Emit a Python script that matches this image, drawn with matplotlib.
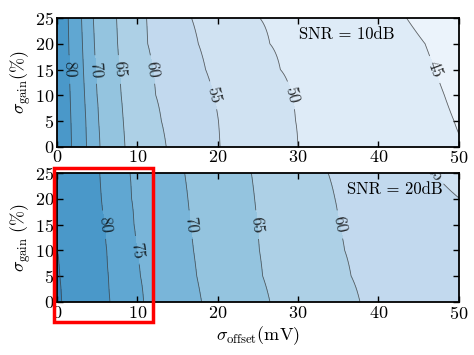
#!/usr/bin/env python3
import numpy as np
import matplotlib
matplotlib.use("Agg")
import matplotlib.pyplot as plt
from matplotlib.patches import Rectangle

nan = np.nan

# gain rows (%) at which the contour crossings were read
gain = [0, 5, 10, 15, 20, 25]

# SNR = 10dB: x position (mV) of each contour level at each gain row
levels_10 = [80, 75, 70, 65, 60, 55, 50, 45]
cross_10 = [
    [1.83, 1.75, 1.65, 1.55, 1.48, 1.41],
    [3.69, 3.60, 3.45, 3.30, 3.18, 3.07],
    [5.35, 5.20, 5.00, 4.80, 4.65, 4.52],
    [8.46, 8.25, 8.00, 7.75, 7.55, 7.42],
    [13.6, 13.0, 12.3, 11.9, 11.3, 11.15],
    [20.3, 20.1, 19.5, 18.5, 17.6, 16.75],
    [30.0, 29.7, 29.2, 27.8, 26.5, 25.25],
    [nan, 49.4, 48.2, 47.0, 45.8, 43.5],
]
left_10 = [84.6, 84.6, 84.5, 84.5, 84.4, 84.4]    # value at offset = 0
right_10 = [45.2, 44.8, 44.5, 44.2, 43.9, 43.2]   # value at offset = 50
labels_10 = {80: 15, 70: 15, 65: 15, 60: 15, 55: 10, 50: 10, 45: 15}

# SNR = 20dB
levels_20 = [85, 80, 75, 70, 65, 60, 55]
cross_20 = [
    [0.6, 0.35, 0.05, nan, nan, nan],
    [6.6, 6.4, 6.2, 5.95, 5.55, 5.35],
    [10.8, 10.4, 9.9, 9.6, 9.3, 9.1],
    [18.0, 17.4, 17.0, 16.6, 16.3, 15.9],
    [26.5, 25.6, 25.2, 24.9, 24.6, 24.2],
    [37.7, 36.6, 35.8, 35.1, 34.6, 33.75],
    [nan, nan, nan, nan, nan, 46.9],
]
left_20 = [86.0, 85.7, 85.2, 84.7, 84.5, 84.3]
right_20 = [56.5, 56.0, 55.6, 55.3, 55.05, 53.8]
labels_20 = {80: 15, 75: 10, 70: 15, 65: 15, 60: 15, 55: 25}

offset = np.linspace(0, 50, 501)


def build_field(levels, cross, left, right):
    cross = np.array(cross, dtype=float)
    levels = np.array(levels, dtype=float)
    rows = []
    for i in range(len(gain)):
        p = cross[:, i]
        ok = ~np.isnan(p)
        xp = np.r_[0, p[ok], 50]
        fp = np.r_[left[i], levels[ok], right[i]]
        rows.append(np.interp(offset, xp, fp))
    return np.array(rows)


def label_points(levels, cross, wanted):
    pts = []
    for lev, row in zip(levels, cross):
        if lev in wanted:
            row = np.array(row, dtype=float)
            ok = ~np.isnan(row)
            g = wanted[lev]
            pts.append((np.interp(g, np.array(gain)[ok], row[ok]), g))
    return pts


plt.rcParams['font.family'] = 'serif'
plt.rcParams['font.serif'] = ['cmr10']
plt.rcParams['mathtext.fontset'] = 'cm'
plt.rcParams['axes.formatter.use_mathtext'] = True

fig = plt.figure(figsize=(4.74, 3.55), dpi=100)
ax1 = fig.add_axes([0.120, 0.587, 0.848, 0.362])
ax2 = fig.add_axes([0.120, 0.150, 0.848, 0.362])

fill_levels = np.arange(40, 95, 5)
panels = [
    (ax1, levels_10, cross_10, left_10, right_10, labels_10, 'SNR = 10dB', 0.84,
     r'$\sigma_{\rm gain}(\%)$'),
    (ax2, levels_20, cross_20, left_20, right_20, labels_20, 'SNR = 20dB', 0.96,
     r'$\sigma_{\rm gain}\ (\%)$'),
]

for ax, levels, cross, left, right, wanted, title, tx, ylab in panels:
    z = build_field(levels, cross, left, right)
    ax.contourf(offset, gain, z, levels=fill_levels, cmap='Blues', vmin=38, vmax=112)
    cs = ax.contour(offset, gain, z, levels=fill_levels, colors='0.25',
                    linewidths=0.6, alpha=0.8)
    texts = ax.clabel(cs, fmt='%d', fontsize=12, inline=True, inline_spacing=6,
                      manual=label_points(levels, cross, wanted), colors='k')
    for t in texts:
        t.set_clip_on(True)
    ax.text(tx, 0.935, title, transform=ax.transAxes, ha='right', va='top', fontsize=12)
    ax.set_xlim(0, 50)
    ax.set_ylim(0, 25)
    ax.set_xticks([0, 10, 20, 30, 40, 50])
    ax.set_yticks([0, 5, 10, 15, 20, 25])
    ax.tick_params(direction='in', top=True, right=True, length=4, width=1,
                   labelsize=13, pad=2)
    for s in ax.spines.values():
        s.set_linewidth(1.3)
    ax.set_ylabel(ylab, fontsize=13, labelpad=1)

ax2.set_xlabel(r'$\sigma_{\rm offset}(\rm mV)$', fontsize=13, labelpad=2)

# red highlight box around the low-offset region
fig.patches.append(Rectangle((54 / 474, 1 - 322 / 355), 98.5 / 474, 154 / 355,
                             transform=fig.transFigure, fill=False,
                             edgecolor='red', linewidth=2.5))

fig.savefig('out.png', dpi=100)
